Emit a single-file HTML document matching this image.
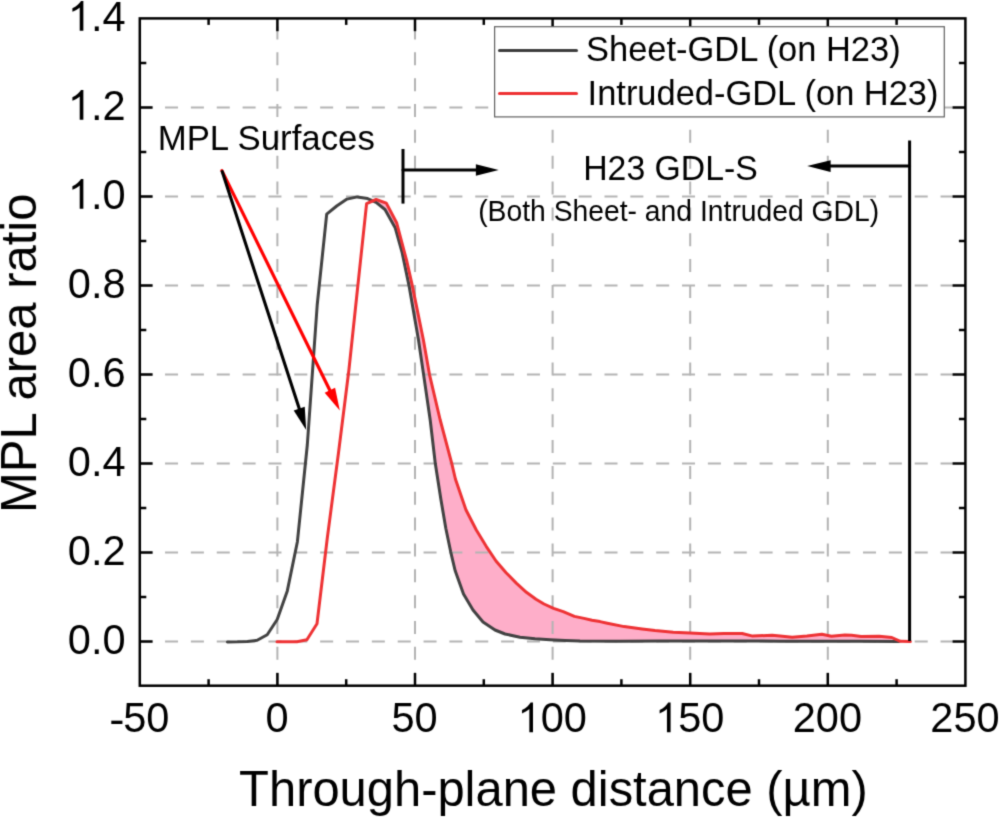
<!DOCTYPE html>
<html><head><meta charset="utf-8"><title>MPL area ratio</title>
<style>html,body{margin:0;padding:0;background:#fff;width:999px;height:817px;overflow:hidden}</style>
</head><body>
<svg width="999" height="817" viewBox="0 0 999 817" style="position:absolute;left:0;top:0">
<defs><filter id="soft" x="0" y="0" width="999" height="817" filterUnits="userSpaceOnUse" color-interpolation-filters="sRGB"><feConvolveMatrix order="3" kernelMatrix="0.02334 0.10610 0.02334 0.10610 0.48225 0.10610 0.02334 0.10610 0.02334" edgeMode="duplicate"/></filter></defs>
<rect x="0" y="0" width="999" height="817" fill="#fff"/>
<g filter="url(#soft)">
<rect x="0" y="0" width="999" height="817" fill="#fff"/>
<polygon points="371.5,200.6 376.1,199.5 386.3,203.1 396.6,222.7 407.0,262.0 412.3,285.6 423.4,340.0 429.5,374.6 440.2,420.0 451.8,463.7 455.4,479.0 465.9,509.7 476.3,530.0 486.2,546.3 496.0,561.0 506.1,572.8 516.3,583.1 526.4,592.3 536.0,599.2 544.0,604.0 553.6,608.4 563.2,611.6 574.4,616.4 584.0,618.4 592.0,620.3 600.0,621.6 607.3,623.2 624.1,626.6 642.1,629.0 655.0,630.6 673.2,632.3 690.1,633.0 709.7,634.1 724.0,633.5 742.2,633.5 752.6,636.1 772.1,635.2 780.0,636.0 792.2,637.3 807.0,636.0 821.9,634.3 831.4,636.2 844.9,635.0 851.6,635.3 861.1,636.6 879.2,636.3 891.8,637.5 900.3,641.3 910.3,641.6 910.3,641.6 899.0,641.4 860.0,641.3 820.0,641.3 780.0,641.2 740.0,641.0 700.0,641.0 660.0,641.1 620.0,641.2 580.0,641.1 565.0,640.6 550.0,639.8 535.0,638.7 520.0,637.2 505.0,634.0 495.0,630.0 483.0,622.0 473.0,610.0 463.5,594.0 455.1,570.5 450.7,551.8 445.8,528.3 441.0,500.0 435.3,463.6 430.2,420.0 423.6,374.6 418.5,340.0 409.0,285.6 402.0,252.0 395.3,228.0 385.0,209.5 376.1,202.3" fill="#FEAEC9" stroke="none"/>
<line x1="277.40" y1="685.70" x2="277.40" y2="18.40" stroke="#B3B3B3" stroke-width="2" stroke-dasharray="13 12.85"/>
<line x1="415.00" y1="685.70" x2="415.00" y2="18.40" stroke="#B3B3B3" stroke-width="2" stroke-dasharray="13 12.85"/>
<line x1="552.60" y1="685.70" x2="552.60" y2="18.40" stroke="#B3B3B3" stroke-width="2" stroke-dasharray="13 12.85"/>
<line x1="690.20" y1="685.70" x2="690.20" y2="18.40" stroke="#B3B3B3" stroke-width="2" stroke-dasharray="13 12.85"/>
<line x1="827.80" y1="685.70" x2="827.80" y2="18.40" stroke="#B3B3B3" stroke-width="2" stroke-dasharray="13 12.85"/>
<line x1="139.20" y1="641.50" x2="965.40" y2="641.50" stroke="#B3B3B3" stroke-width="2" stroke-dasharray="13 12.85"/>
<line x1="139.20" y1="552.50" x2="965.40" y2="552.50" stroke="#B3B3B3" stroke-width="2" stroke-dasharray="13 12.85"/>
<line x1="139.20" y1="463.50" x2="965.40" y2="463.50" stroke="#B3B3B3" stroke-width="2" stroke-dasharray="13 12.85"/>
<line x1="139.20" y1="374.50" x2="965.40" y2="374.50" stroke="#B3B3B3" stroke-width="2" stroke-dasharray="13 12.85"/>
<line x1="139.20" y1="285.50" x2="965.40" y2="285.50" stroke="#B3B3B3" stroke-width="2" stroke-dasharray="13 12.85"/>
<line x1="139.20" y1="196.50" x2="965.40" y2="196.50" stroke="#B3B3B3" stroke-width="2" stroke-dasharray="13 12.85"/>
<line x1="139.20" y1="107.50" x2="965.40" y2="107.50" stroke="#B3B3B3" stroke-width="2" stroke-dasharray="13 12.85"/>
<polyline points="227.4,641.9 237.4,641.8 247.4,641.4 257.2,640.3 267.2,634.7 277.2,619.5 287.3,590.9 297.4,541.7 307.3,445.0 317.2,305.0 326.7,214.2 336.7,206.0 347.0,199.1 357.3,196.9 367.6,198.6 376.1,202.3 385.0,209.5 395.3,228.0 402.0,252.0 409.0,285.6 418.5,340.0 423.6,374.6 430.2,420.0 435.3,463.6 441.0,500.0 445.8,528.3 450.7,551.8 455.1,570.5 463.5,594.0 473.0,610.0 483.0,622.0 495.0,630.0 505.0,634.0 520.0,637.2 535.0,638.7 550.0,639.8 565.0,640.6 580.0,641.1 620.0,641.2 660.0,641.1 700.0,641.0 740.0,641.0 780.0,641.2 820.0,641.3 860.0,641.3 899.0,641.4" fill="none" stroke="#424242" stroke-width="3.0" stroke-linejoin="round" stroke-linecap="round"/>
<polyline points="277.0,641.7 287.0,641.7 297.0,641.7 306.9,639.7 317.0,623.8 327.3,538.0 338.6,452.0 348.9,370.0 357.6,288.0 366.6,203.6 376.1,199.5 386.3,203.1 396.6,222.7 407.0,262.0 412.3,285.6 423.4,340.0 429.5,374.6 440.2,420.0 451.8,463.7 455.4,479.0 465.9,509.7 476.3,530.0 486.2,546.3 496.0,561.0 506.1,572.8 516.3,583.1 526.4,592.3 536.0,599.2 544.0,604.0 553.6,608.4 563.2,611.6 574.4,616.4 584.0,618.4 592.0,620.3 600.0,621.6 607.3,623.2 624.1,626.6 642.1,629.0 655.0,630.6 673.2,632.3 690.1,633.0 709.7,634.1 724.0,633.5 742.2,633.5 752.6,636.1 772.1,635.2 780.0,636.0 792.2,637.3 807.0,636.0 821.9,634.3 831.4,636.2 844.9,635.0 851.6,635.3 861.1,636.6 879.2,636.3 891.8,637.5 900.3,641.3 910.3,641.6" fill="none" stroke="#EE3234" stroke-width="3.0" stroke-linejoin="round" stroke-linecap="round"/>
<g stroke="#000" stroke-width="2.5" stroke-linecap="butt"><rect x="139.80" y="18.40" width="825.60" height="667.30" fill="none" stroke="#000" stroke-width="2.5"/><line x1="208.60" y1="685.70" x2="208.60" y2="679.20"/><line x1="208.60" y1="18.40" x2="208.60" y2="24.90"/><line x1="277.40" y1="685.70" x2="277.40" y2="672.90"/><line x1="277.40" y1="18.40" x2="277.40" y2="31.20"/><line x1="346.20" y1="685.70" x2="346.20" y2="679.20"/><line x1="346.20" y1="18.40" x2="346.20" y2="24.90"/><line x1="415.00" y1="685.70" x2="415.00" y2="672.90"/><line x1="415.00" y1="18.40" x2="415.00" y2="31.20"/><line x1="483.80" y1="685.70" x2="483.80" y2="679.20"/><line x1="483.80" y1="18.40" x2="483.80" y2="24.90"/><line x1="552.60" y1="685.70" x2="552.60" y2="672.90"/><line x1="552.60" y1="18.40" x2="552.60" y2="31.20"/><line x1="621.40" y1="685.70" x2="621.40" y2="679.20"/><line x1="621.40" y1="18.40" x2="621.40" y2="24.90"/><line x1="690.20" y1="685.70" x2="690.20" y2="672.90"/><line x1="690.20" y1="18.40" x2="690.20" y2="31.20"/><line x1="759.00" y1="685.70" x2="759.00" y2="679.20"/><line x1="759.00" y1="18.40" x2="759.00" y2="24.90"/><line x1="827.80" y1="685.70" x2="827.80" y2="672.90"/><line x1="827.80" y1="18.40" x2="827.80" y2="31.20"/><line x1="896.60" y1="685.70" x2="896.60" y2="679.20"/><line x1="896.60" y1="18.40" x2="896.60" y2="24.90"/><line x1="139.80" y1="641.50" x2="152.60" y2="641.50"/><line x1="965.40" y1="641.50" x2="952.60" y2="641.50"/><line x1="139.80" y1="597.00" x2="146.30" y2="597.00"/><line x1="965.40" y1="597.00" x2="958.90" y2="597.00"/><line x1="139.80" y1="552.50" x2="152.60" y2="552.50"/><line x1="965.40" y1="552.50" x2="952.60" y2="552.50"/><line x1="139.80" y1="508.00" x2="146.30" y2="508.00"/><line x1="965.40" y1="508.00" x2="958.90" y2="508.00"/><line x1="139.80" y1="463.50" x2="152.60" y2="463.50"/><line x1="965.40" y1="463.50" x2="952.60" y2="463.50"/><line x1="139.80" y1="419.00" x2="146.30" y2="419.00"/><line x1="965.40" y1="419.00" x2="958.90" y2="419.00"/><line x1="139.80" y1="374.50" x2="152.60" y2="374.50"/><line x1="965.40" y1="374.50" x2="952.60" y2="374.50"/><line x1="139.80" y1="330.00" x2="146.30" y2="330.00"/><line x1="965.40" y1="330.00" x2="958.90" y2="330.00"/><line x1="139.80" y1="285.50" x2="152.60" y2="285.50"/><line x1="965.40" y1="285.50" x2="952.60" y2="285.50"/><line x1="139.80" y1="241.00" x2="146.30" y2="241.00"/><line x1="965.40" y1="241.00" x2="958.90" y2="241.00"/><line x1="139.80" y1="196.50" x2="152.60" y2="196.50"/><line x1="965.40" y1="196.50" x2="952.60" y2="196.50"/><line x1="139.80" y1="152.00" x2="146.30" y2="152.00"/><line x1="965.40" y1="152.00" x2="958.90" y2="152.00"/><line x1="139.80" y1="107.50" x2="152.60" y2="107.50"/><line x1="965.40" y1="107.50" x2="952.60" y2="107.50"/><line x1="139.80" y1="63.00" x2="146.30" y2="63.00"/><line x1="965.40" y1="63.00" x2="958.90" y2="63.00"/></g>
<text x="0" y="0" transform="translate(67.87 653.70) scale(1 1.025)" font-size="41.60" style="font-family:'Liberation Sans',sans-serif" fill="#000">0</text><text x="0" y="0" transform="translate(91.01 653.70) scale(1 1.025)" font-size="41.60" style="font-family:'Liberation Sans',sans-serif" fill="#000">.</text><text x="0" y="0" transform="translate(102.56 653.70) scale(1 1.025)" font-size="41.60" style="font-family:'Liberation Sans',sans-serif" fill="#000">0</text>
<text x="0" y="0" transform="translate(67.87 564.70) scale(1 1.025)" font-size="41.60" style="font-family:'Liberation Sans',sans-serif" fill="#000">0</text><text x="0" y="0" transform="translate(91.01 564.70) scale(1 1.025)" font-size="41.60" style="font-family:'Liberation Sans',sans-serif" fill="#000">.</text><text x="0" y="0" transform="translate(102.56 564.70) scale(1 1.025)" font-size="41.60" style="font-family:'Liberation Sans',sans-serif" fill="#000">2</text>
<text x="0" y="0" transform="translate(67.87 475.70) scale(1 1.025)" font-size="41.60" style="font-family:'Liberation Sans',sans-serif" fill="#000">0</text><text x="0" y="0" transform="translate(91.01 475.70) scale(1 1.025)" font-size="41.60" style="font-family:'Liberation Sans',sans-serif" fill="#000">.</text><text x="0" y="0" transform="translate(102.56 475.70) scale(1 1.025)" font-size="41.60" style="font-family:'Liberation Sans',sans-serif" fill="#000">4</text>
<text x="0" y="0" transform="translate(67.87 386.70) scale(1 1.025)" font-size="41.60" style="font-family:'Liberation Sans',sans-serif" fill="#000">0</text><text x="0" y="0" transform="translate(91.01 386.70) scale(1 1.025)" font-size="41.60" style="font-family:'Liberation Sans',sans-serif" fill="#000">.</text><text x="0" y="0" transform="translate(102.56 386.70) scale(1 1.025)" font-size="41.60" style="font-family:'Liberation Sans',sans-serif" fill="#000">6</text>
<text x="0" y="0" transform="translate(67.87 297.70) scale(1 1.025)" font-size="41.60" style="font-family:'Liberation Sans',sans-serif" fill="#000">0</text><text x="0" y="0" transform="translate(91.01 297.70) scale(1 1.025)" font-size="41.60" style="font-family:'Liberation Sans',sans-serif" fill="#000">.</text><text x="0" y="0" transform="translate(102.56 297.70) scale(1 1.025)" font-size="41.60" style="font-family:'Liberation Sans',sans-serif" fill="#000">8</text>
<path d="M763 0L583 0L583 1147Q518 1085 412 1023Q306 961 223 930L223 1104Q374 1175 487 1276Q600 1377 647 1466L763 1466Z" transform="translate(67.87 208.70) scale(0.02031 -0.02031)" fill="#000"/><text x="0" y="0" transform="translate(91.01 208.70) scale(1 1.025)" font-size="41.60" style="font-family:'Liberation Sans',sans-serif" fill="#000">.</text><text x="0" y="0" transform="translate(102.56 208.70) scale(1 1.025)" font-size="41.60" style="font-family:'Liberation Sans',sans-serif" fill="#000">0</text>
<path d="M763 0L583 0L583 1147Q518 1085 412 1023Q306 961 223 930L223 1104Q374 1175 487 1276Q600 1377 647 1466L763 1466Z" transform="translate(67.87 119.70) scale(0.02031 -0.02031)" fill="#000"/><text x="0" y="0" transform="translate(91.01 119.70) scale(1 1.025)" font-size="41.60" style="font-family:'Liberation Sans',sans-serif" fill="#000">.</text><text x="0" y="0" transform="translate(102.56 119.70) scale(1 1.025)" font-size="41.60" style="font-family:'Liberation Sans',sans-serif" fill="#000">2</text>
<path d="M763 0L583 0L583 1147Q518 1085 412 1023Q306 961 223 930L223 1104Q374 1175 487 1276Q600 1377 647 1466L763 1466Z" transform="translate(67.87 30.70) scale(0.02031 -0.02031)" fill="#000"/><text x="0" y="0" transform="translate(91.01 30.70) scale(1 1.025)" font-size="41.60" style="font-family:'Liberation Sans',sans-serif" fill="#000">.</text><text x="0" y="0" transform="translate(102.56 30.70) scale(1 1.025)" font-size="41.60" style="font-family:'Liberation Sans',sans-serif" fill="#000">4</text>
<text x="0" y="0" transform="translate(109.14 734.00) scale(1.1 1.025)" font-size="41.60" style="font-family:'Liberation Sans',sans-serif" fill="#000">-</text><text x="0" y="0" transform="translate(123.19 732.30) scale(1 1.025)" font-size="41.60" style="font-family:'Liberation Sans',sans-serif" fill="#000">5</text><text x="0" y="0" transform="translate(146.33 732.30) scale(1 1.025)" font-size="41.60" style="font-family:'Liberation Sans',sans-serif" fill="#000">0</text>
<text x="0" y="0" transform="translate(265.43 732.30) scale(1 1.025)" font-size="41.60" style="font-family:'Liberation Sans',sans-serif" fill="#000">0</text>
<text x="0" y="0" transform="translate(391.46 732.30) scale(1 1.025)" font-size="41.60" style="font-family:'Liberation Sans',sans-serif" fill="#000">5</text><text x="0" y="0" transform="translate(414.60 732.30) scale(1 1.025)" font-size="41.60" style="font-family:'Liberation Sans',sans-serif" fill="#000">0</text>
<path d="M763 0L583 0L583 1147Q518 1085 412 1023Q306 961 223 930L223 1104Q374 1175 487 1276Q600 1377 647 1466L763 1466Z" transform="translate(517.50 732.30) scale(0.02031 -0.02031)" fill="#000"/><text x="0" y="0" transform="translate(540.63 732.30) scale(1 1.025)" font-size="41.60" style="font-family:'Liberation Sans',sans-serif" fill="#000">0</text><text x="0" y="0" transform="translate(563.77 732.30) scale(1 1.025)" font-size="41.60" style="font-family:'Liberation Sans',sans-serif" fill="#000">0</text>
<path d="M763 0L583 0L583 1147Q518 1085 412 1023Q306 961 223 930L223 1104Q374 1175 487 1276Q600 1377 647 1466L763 1466Z" transform="translate(655.10 732.30) scale(0.02031 -0.02031)" fill="#000"/><text x="0" y="0" transform="translate(678.23 732.30) scale(1 1.025)" font-size="41.60" style="font-family:'Liberation Sans',sans-serif" fill="#000">5</text><text x="0" y="0" transform="translate(701.37 732.30) scale(1 1.025)" font-size="41.60" style="font-family:'Liberation Sans',sans-serif" fill="#000">0</text>
<text x="0" y="0" transform="translate(792.70 732.30) scale(1 1.025)" font-size="41.60" style="font-family:'Liberation Sans',sans-serif" fill="#000">2</text><text x="0" y="0" transform="translate(815.83 732.30) scale(1 1.025)" font-size="41.60" style="font-family:'Liberation Sans',sans-serif" fill="#000">0</text><text x="0" y="0" transform="translate(838.97 732.30) scale(1 1.025)" font-size="41.60" style="font-family:'Liberation Sans',sans-serif" fill="#000">0</text>
<text x="0" y="0" transform="translate(930.30 732.30) scale(1 1.025)" font-size="41.60" style="font-family:'Liberation Sans',sans-serif" fill="#000">2</text><text x="0" y="0" transform="translate(953.43 732.30) scale(1 1.025)" font-size="41.60" style="font-family:'Liberation Sans',sans-serif" fill="#000">5</text><text x="0" y="0" transform="translate(976.57 732.30) scale(1 1.025)" font-size="41.60" style="font-family:'Liberation Sans',sans-serif" fill="#000">0</text>
<text x="0" y="0" transform="translate(239.10 805.90) scale(1 1.010)" font-size="48.90" text-anchor="start" style="font-family:'Liberation Sans',sans-serif" fill="#000">Through-plane distance (&#181;m)</text>
<text x="0" y="0" transform="translate(36.5 513.02) rotate(-90) scale(1 1.01)" font-size="49.0" style="font-family:'Liberation Sans',sans-serif">MPL area ratio</text>
<rect x="494.6" y="26.7" width="449.7" height="90.2" fill="#fff" stroke="#606060" stroke-width="1.2"/>
<line x1="499.5" y1="50.6" x2="576.5" y2="50.6" stroke="#3E3E3E" stroke-width="3.0" stroke-linecap="round"/>
<line x1="499.5" y1="93.6" x2="576.5" y2="93.6" stroke="#EE3234" stroke-width="3.0" stroke-linecap="round"/>
<text x="0" y="0" transform="translate(586.10 61.40) scale(1 1.020)" font-size="34.45" text-anchor="start" style="font-family:'Liberation Sans',sans-serif" fill="#000">Sheet-GDL (on H23)</text>
<text x="0" y="0" transform="translate(587.60 104.80) scale(1 1.020)" font-size="34.45" text-anchor="start" style="font-family:'Liberation Sans',sans-serif" fill="#000">Intruded-GDL (on H23)</text>
<text x="0" y="0" transform="translate(157.70 149.50) scale(1 1.020)" font-size="34.80" text-anchor="start" style="font-family:'Liberation Sans',sans-serif" fill="#000">MPL Surfaces</text>
<text x="0" y="0" transform="translate(583.20 180.00) scale(1 1.020)" font-size="33.80" text-anchor="start" style="font-family:'Liberation Sans',sans-serif" fill="#000">H23 GDL-S</text>
<text x="0" y="0" transform="translate(478.15 221.40) scale(1 1.020)" font-size="28.30" text-anchor="start" style="font-family:'Liberation Sans',sans-serif" fill="#000">(Both Sheet- and Intruded GDL)</text>
<line x1="221.90" y1="170.60" x2="330.32" y2="391.20" stroke="#FF0000" stroke-width="3.20" stroke-linecap="round"/><polygon points="339.80,410.50 324.67,392.87 335.08,387.75" fill="#FF0000"/>
<line x1="222.20" y1="171.60" x2="299.55" y2="409.55" stroke="#000" stroke-width="3.10" stroke-linecap="round"/><polygon points="306.20,430.00 293.73,410.40 304.76,406.81" fill="#000"/>
<line x1="403.0" y1="149.0" x2="403.0" y2="203.6" stroke="#000" stroke-width="3"/>
<line x1="403.00" y1="170.00" x2="476.90" y2="170.00" stroke="#000" stroke-width="3.00" stroke-linecap="round"/><polygon points="498.70,170.00 475.90,175.80 475.90,164.20" fill="#000"/>
<line x1="909.6" y1="140.4" x2="909.6" y2="641" stroke="#000" stroke-width="3"/>
<line x1="909.60" y1="166.10" x2="829.60" y2="166.10" stroke="#000" stroke-width="3.00" stroke-linecap="round"/><polygon points="807.20,166.10 830.60,160.30 830.60,171.90" fill="#000"/>
</g>
</svg>
</body></html>
